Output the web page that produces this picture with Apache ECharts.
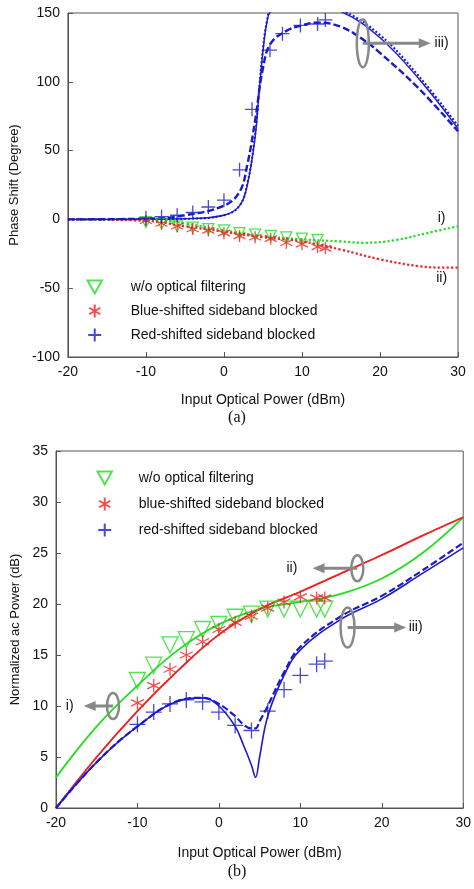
<!DOCTYPE html><html><head><meta charset="utf-8"><script src="https://cdn.jsdelivr.net/npm/echarts@6/dist/echarts.min.js"></script>
<style>html,body{margin:0;background:#fff}#c{width:474px;height:889px}</style></head><body><div id="c"></div><script>
// ---- (a) Phase shift ----
const aMkX=[-10,-8,-6,-4,-2,0,2,4,6,8,10,12];
const aGreenMk=[-2,-3,-5,-6,-7,-8,-10,-11,-12,-13,-14,-15];
const aRedMkX=[-10,-8,-6,-4,-2,0,2,4,6,8,10,12,13];
const aRedMk=[-1,-3,-5,-7,-8,-10,-12,-13,-14,-17,-18,-20,-21];
const aBlueMkX=[-10,-8,-6,-4,-2,0,2,3.6,5.9,7.5,9.8,12,13];
const aBlueMk=[1,2,3,5,9,14,36,80,123,135,141,142,145];
const aGreenCurve=[[-20,0],[-10,0],[-5,-3],[0,-8],[5,-12],[10,-14.5],[15,-16],[18,-17],[22,-15],[26,-10],[30,-5]];
const aRedCurve=[[-20,0],[-10,-1],[-5,-5],[0,-9],[5,-13],[10,-16],[15,-22],[20,-29],[25,-34],[28,-35],[30,-35]];
const aBlueDash=[[-20,0],[-10,0.5],[-5,3],[0,10],[2,20],[3,40],[4,72],[5,110],[6,128],[8,137],[10,141],[12,143],[15,140],[18,130],[20,121],[25,95],[30,64]];
const aBlueSolid=[[-20,0],[-5,0.5],[0,3],[2,10],[3,25],[4,60],[4.5,92],[5,122],[5.5,143],[6,151],[8,156],[10,157],[15,151],[20,132],[25,102],[30,66]];
const aBlueDot=[[-20,0],[-5,0.5],[0,3],[2,10],[3,26],[4,62],[4.5,94],[5,124],[5.5,144],[6,152],[8,157],[10,157],[15,152],[20,134],[25,104],[30,68]];
// ---- (b) Normalized ac power ----
const bMkX=[-10,-8,-6,-4,-2,0,2,4,6,8,10,12,13];
const bGreenMk=[12.5,14,16,16.5,17.5,18,18.7,19,19.5,19.5,19.5,19.5,19.5];
const bRedMk=[10.3,12,13.6,15,16.3,17.5,18.2,18.8,19.6,20.2,20.7,20.6,20.6];
const bBlueMk=[8.2,9.4,10.2,10.6,10.4,9.4,8.1,7.6,9.5,11.6,13,14.1,14.4];
const bGreenCurve=[[-20,3],[-15,8],[-10,12],[-5,15.5],[0,18],[5,19.5],[10,20.2],[15,21],[20,22.5],[25,25],[30,28.5]];
const bRedCurve=[[-20,0],[-15,5],[-10,9.5],[-5,13.5],[0,17],[5,19.5],[10,21.2],[15,23],[20,24.8],[25,26.7],[30,28.5]];
const bBlueSolid=[[-20,0],[-15,4.5],[-10,8],[-5,10.5],[-2,10.8],[0,10],[2,8],[3,6.2],[4,4.2],[4.5,3],[5,5],[6,9],[8,13],[10,15.5],[15,18.5],[20,20.5],[25,23],[30,25.5]];
const bBlueDash=[[-20,0],[-15,4.5],[-10,8],[-5,10.5],[-2,10.8],[0,10.2],[2,9],[3,8.2],[4,7.8],[4.5,7.8],[5,8.5],[6,10],[8,13.3],[10,15.8],[15,18.8],[20,20.8],[25,23.3],[30,26]];
const bLegend=['w/o optical filtering ','blue-shifted sideband blocked','red-shifted sideband blocked'];
const aLegend=['w/o optical filtering','Blue-shifted sideband blocked','Red-shifted sideband blocked'];

const TRI='path://M0,0 L10,0 L5,9 Z';
const STAR='path://M5,0 L5,10 M0.7,2.5 L9.3,7.5 M0.7,7.5 L9.3,2.5';
const PLUS='path://M0,5 L10,5 M5,0 L5,10';
const G='#22dd22',R='#ee2222',B='#1a1acc';
const pair=(xs,ys)=>xs.map((x,i)=>[x,ys[i]]);
function mk(name,data,sym,col,gi,size){return {name,type:'scatter',xAxisIndex:gi,yAxisIndex:gi,data,symbol:sym,symbolSize:size,
 itemStyle:{color:'none',borderColor:col,borderWidth:1.3},z:5};}
function ln(data,col,type,gi,w){return {type:'line',xAxisIndex:gi,yAxisIndex:gi,data,smooth:0.4,showSymbol:false,lineStyle:{color:col,width:w||1.6,type:type},z:3,silent:true};}
const F='Liberation Sans, Arial, sans-serif';
function xa(gi){return {type:'value',gridIndex:gi,min:-20,max:30,interval:10,name:'Input Optical Power (dBm)',nameLocation:'middle',nameGap:gi?38:36,
 nameTextStyle:{fontFamily:F,fontSize:14,color:'#111'},axisLine:{onZero:false,lineStyle:{color:'#555'}},axisTick:{inside:true,length:5,lineStyle:{color:'#555'}},
 axisLabel:{fontFamily:F,fontSize:14,color:'#111',margin:8},splitLine:{show:false}};}
function ya(gi,min,max,iv,name){return {type:'value',gridIndex:gi,min,max,interval:iv,name,nameLocation:'middle',nameGap:gi?30:36,
 nameTextStyle:{fontFamily:F,fontSize:13,color:'#111'},axisLine:{onZero:false,lineStyle:{color:'#555'}},axisTick:{inside:true,length:5,lineStyle:{color:'#555'}},
 axisLabel:{fontFamily:F,fontSize:14,color:'#111'},splitLine:{show:false}};}
const chart=echarts.init(document.getElementById('c'));
chart.setOption({animation:false,
 grid:[{left:58,right:16,top:13,height:344,show:true,borderColor:'#555'},{left:56,right:8,top:451,height:357,show:true,borderColor:'#555'}],
 xAxis:[xa(0),xa(1)],
 yAxis:[ya(0,-100,150,50,'Phase Shift (Degree)'),ya(1,0,35,5,'Normalized ac Power (dB)')],
 legend:[{data:aLegend,orient:'vertical',left:80,top:273,itemGap:6,itemWidth:18,itemHeight:13,textStyle:{fontFamily:F,fontSize:14,color:'#111',padding:[0,0,0,22]}},
   {data:bLegend,orient:'vertical',left:90,top:464,itemGap:8,itemWidth:18,itemHeight:13,textStyle:{fontFamily:F,fontSize:14,color:'#111',padding:[0,0,0,20]}}],
 series:[
  ln(aGreenCurve,G,'dotted',0,2.2), ln(aRedCurve,R,'dotted',0,2.2),
  ln(aBlueSolid,B,'solid',0,1.4), ln(aBlueDot,B,'dotted',0,2), ln(aBlueDash,B,[7,3],0,2.4),
  mk(aLegend[0],pair(aMkX,aGreenMk),TRI,G,0,11), mk(aLegend[1],pair(aRedMkX,aRedMk),STAR,R,0,12), mk(aLegend[2],pair(aBlueMkX,aBlueMk),PLUS,B,0,14),
  ln(bGreenCurve,G,'solid',1,1.8), ln(bRedCurve,R,'solid',1,1.8), ln(bRedCurve,R,'dotted',1,1.5),
  ln(bBlueSolid,B,'solid',1,1.6), ln(bBlueDash,B,[7,3],1,2.2),
  mk(bLegend[0],pair(bMkX,bGreenMk),TRI,G,1,16), mk(bLegend[1],pair(bMkX,bRedMk),STAR,R,1,13), mk(bLegend[2],pair(bMkX,bBlueMk),PLUS,B,1,16)
 ]});
const P=(gi,x,y)=>chart.convertToPixel({gridIndex:gi},[x,y]);
const gr='#888';
function ell(gi,x,y,rx,ry){const p=P(gi,x,y);return {type:'ellipse',shape:{cx:p[0],cy:p[1],rx,ry},style:{fill:'none',stroke:gr,lineWidth:2.5},z:10};}
function arrow(gi,x1,y1,x2,y2){const a=P(gi,x1,y1),b=P(gi,x2,y2);const d=Math.sign(b[0]-a[0]);
 return [{type:'line',shape:{x1:a[0],y1:a[1],x2:b[0]-d*8,y2:b[1]},style:{stroke:gr,lineWidth:3},z:10},
 {type:'polygon',shape:{points:[[b[0],b[1]],[b[0]-d*12,b[1]-5],[b[0]-d*12,b[1]+5]]},style:{fill:gr},z:10}];}
function txt(gi,x,y,t){const p=P(gi,x,y);return {type:'text',x:p[0],y:p[1],style:{text:t,font:'14px '+F,fill:'#111',verticalAlign:'middle'},z:10};}
chart.setOption({graphic:[
 {type:'text',left:'center',top:410,style:{text:'(a)',font:'16px Liberation Serif, serif',fill:'#111'}},
 {type:'text',left:'center',top:864,style:{text:'(b)',font:'16px Liberation Serif, serif',fill:'#111'}},
 ell(0,17.8,128,6,24), ...arrow(0,17.8,128,26.5,128), txt(0,27,128,'iii)'),
 txt(0,27.4,1,'i)'), txt(0,27.2,-43,'ii)'),
 ell(1,-13,10,6,13), ...arrow(1,-13,10,-16.6,10), txt(1,-18.8,10,'i)'),
 ell(1,17,23.5,6,13), ...arrow(1,17,23.5,11.5,23.5), txt(1,8.3,23.5,'ii)'),
 ell(1,15.8,17.7,7,20), ...arrow(1,15.8,17.7,23,17.7), txt(1,23.3,17.7,'iii)')
]});
</script></body></html>
